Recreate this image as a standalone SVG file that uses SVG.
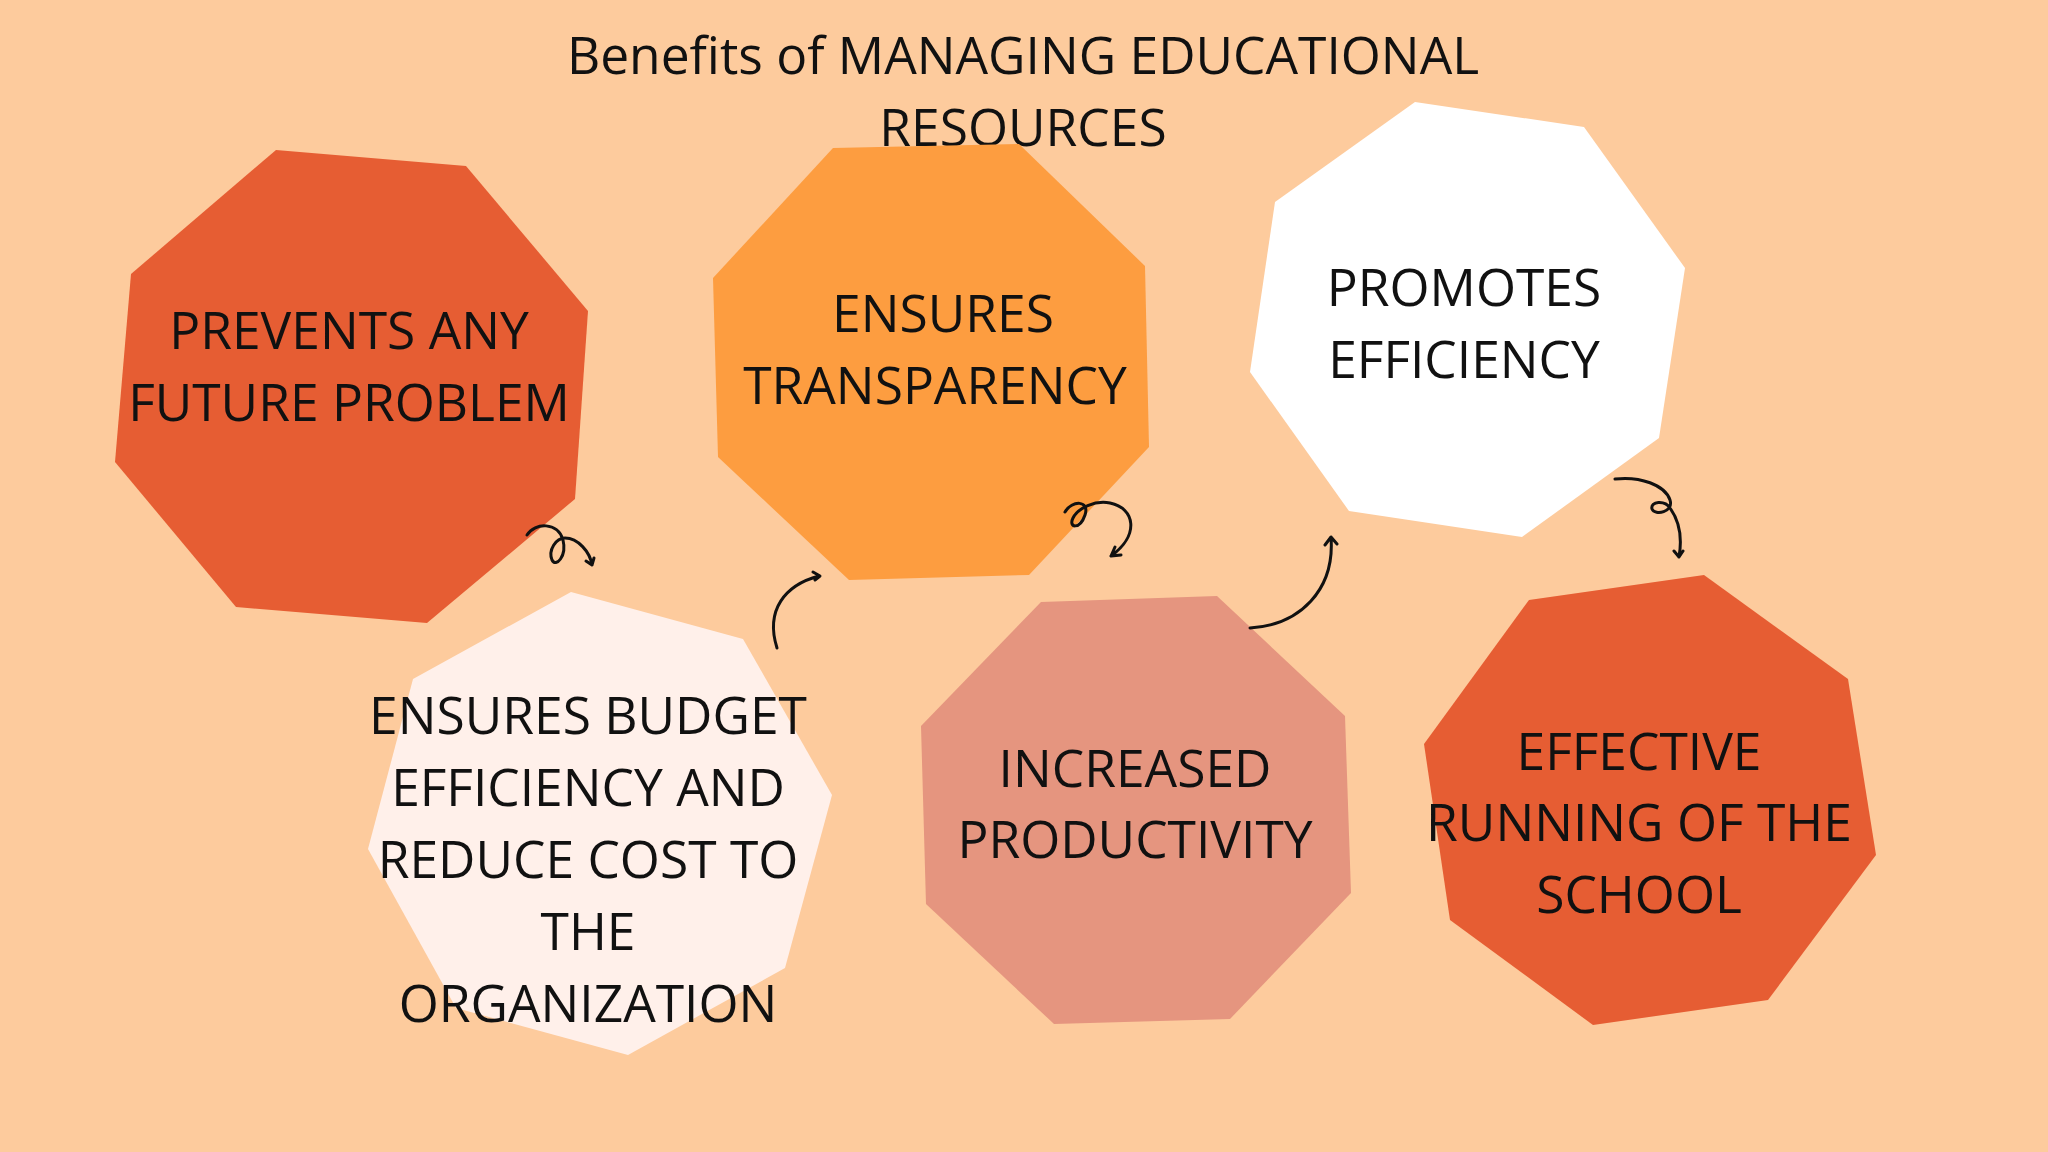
<svg xmlns="http://www.w3.org/2000/svg" width="2048" height="1152" viewBox="0 0 2048 1152">
<style>
text{font-family:"Open Sans","Noto Sans","Liberation Sans",sans-serif;fill:#111;text-anchor:middle}
.t{font-size:51.5px}
.n{font-size:51.5px}
.arr{fill:none;stroke:#111;stroke-width:3;stroke-linecap:round;stroke-linejoin:round}
</style>
<rect width="2048" height="1152" fill="#FDCB9D"/>
<g id="title"><text class="t" x="1023" y="74">Benefits of MANAGING EDUCATIONAL</text><text class="t" x="1023" y="146">RESOURCES</text></g>
<g id="node1"><polygon points="276,150 466,166 588,311 575,499 427,623 236,607 115,462 131,274" fill="#E65D33"/><text class="n" x="349" y="349">PREVENTS ANY</text><text class="n" x="349" y="421">FUTURE PROBLEM</text></g>
<g id="node2"><polygon points="833,148 1019,144 1145,266 1149,447 1029,575 849,580 718,457 713,278" fill="#FD9D40"/><text class="n" x="943" y="332">ENSURES</text><text class="n" x="935" y="404">TRANSPARENCY</text></g>
<g id="node3"><polygon points="1415,102 1584,127 1685,268 1659,438 1522,537 1349,511 1250,372 1275,202" fill="#FFFFFF"/><text class="n" x="1464" y="306">PROMOTES</text><text class="n" x="1464" y="378">EFFICIENCY</text></g>
<g id="node4"><polygon points="571,592 743,639 832,795 785,968 628,1055 456,1008 368,849 413,679" fill="#FFF0EA"/><text class="n" x="588" y="734">ENSURES BUDGET</text><text class="n" x="588" y="806">EFFICIENCY AND</text><text class="n" x="588" y="878">REDUCE COST TO</text><text class="n" x="588" y="950">THE</text><text class="n" x="588" y="1022">ORGANIZATION</text></g>
<g id="node5"><polygon points="1041,602 1217,596 1345,716 1351,893 1230,1019 1054,1024 926,904 921,726" fill="#E5957F"/><text class="n" x="1135" y="787">INCREASED</text><text class="n" x="1135" y="858">PRODUCTIVITY</text></g>
<g id="node6"><polygon points="1529,600 1704,575 1848,679 1876,855 1768,1000 1593,1025 1450,920 1424,744" fill="#E65D33"/><text class="n" x="1639" y="770">EFFECTIVE</text><text class="n" x="1639" y="841">RUNNING OF THE</text><text class="n" x="1639" y="913">SCHOOL</text></g>
<g id="connectors">
<path class="arr" d="M527,535 C535,522 558,522 563,540 C567,556 556,568 552,560 C548,550 556,538 565,538 C578,538 590,552 592,565 M586,561 L592,565 L594,558"/>
<path class="arr" d="M777,648 C765,610 785,585 819,576 M813,572 L820,576 L815,580"/>
<path class="arr" d="M1065,512 C1072,500 1090,500 1085,515 C1080,530 1068,528 1073,518 C1078,508 1095,500 1110,503 C1135,508 1140,535 1111,556 M1115,547 L1111,556 L1121,555"/>
<path class="arr" d="M1250,628 C1300,625 1335,590 1331,537 M1325,545 L1331,537 L1337,544"/>
<path class="arr" d="M1615,479 C1640,476 1665,485 1670,500 C1674,512 1655,516 1652,509 C1650,501 1665,500 1670,508 C1680,522 1682,540 1679,557 M1674,551 L1679,557 L1683,551"/>
</g>
</svg>
